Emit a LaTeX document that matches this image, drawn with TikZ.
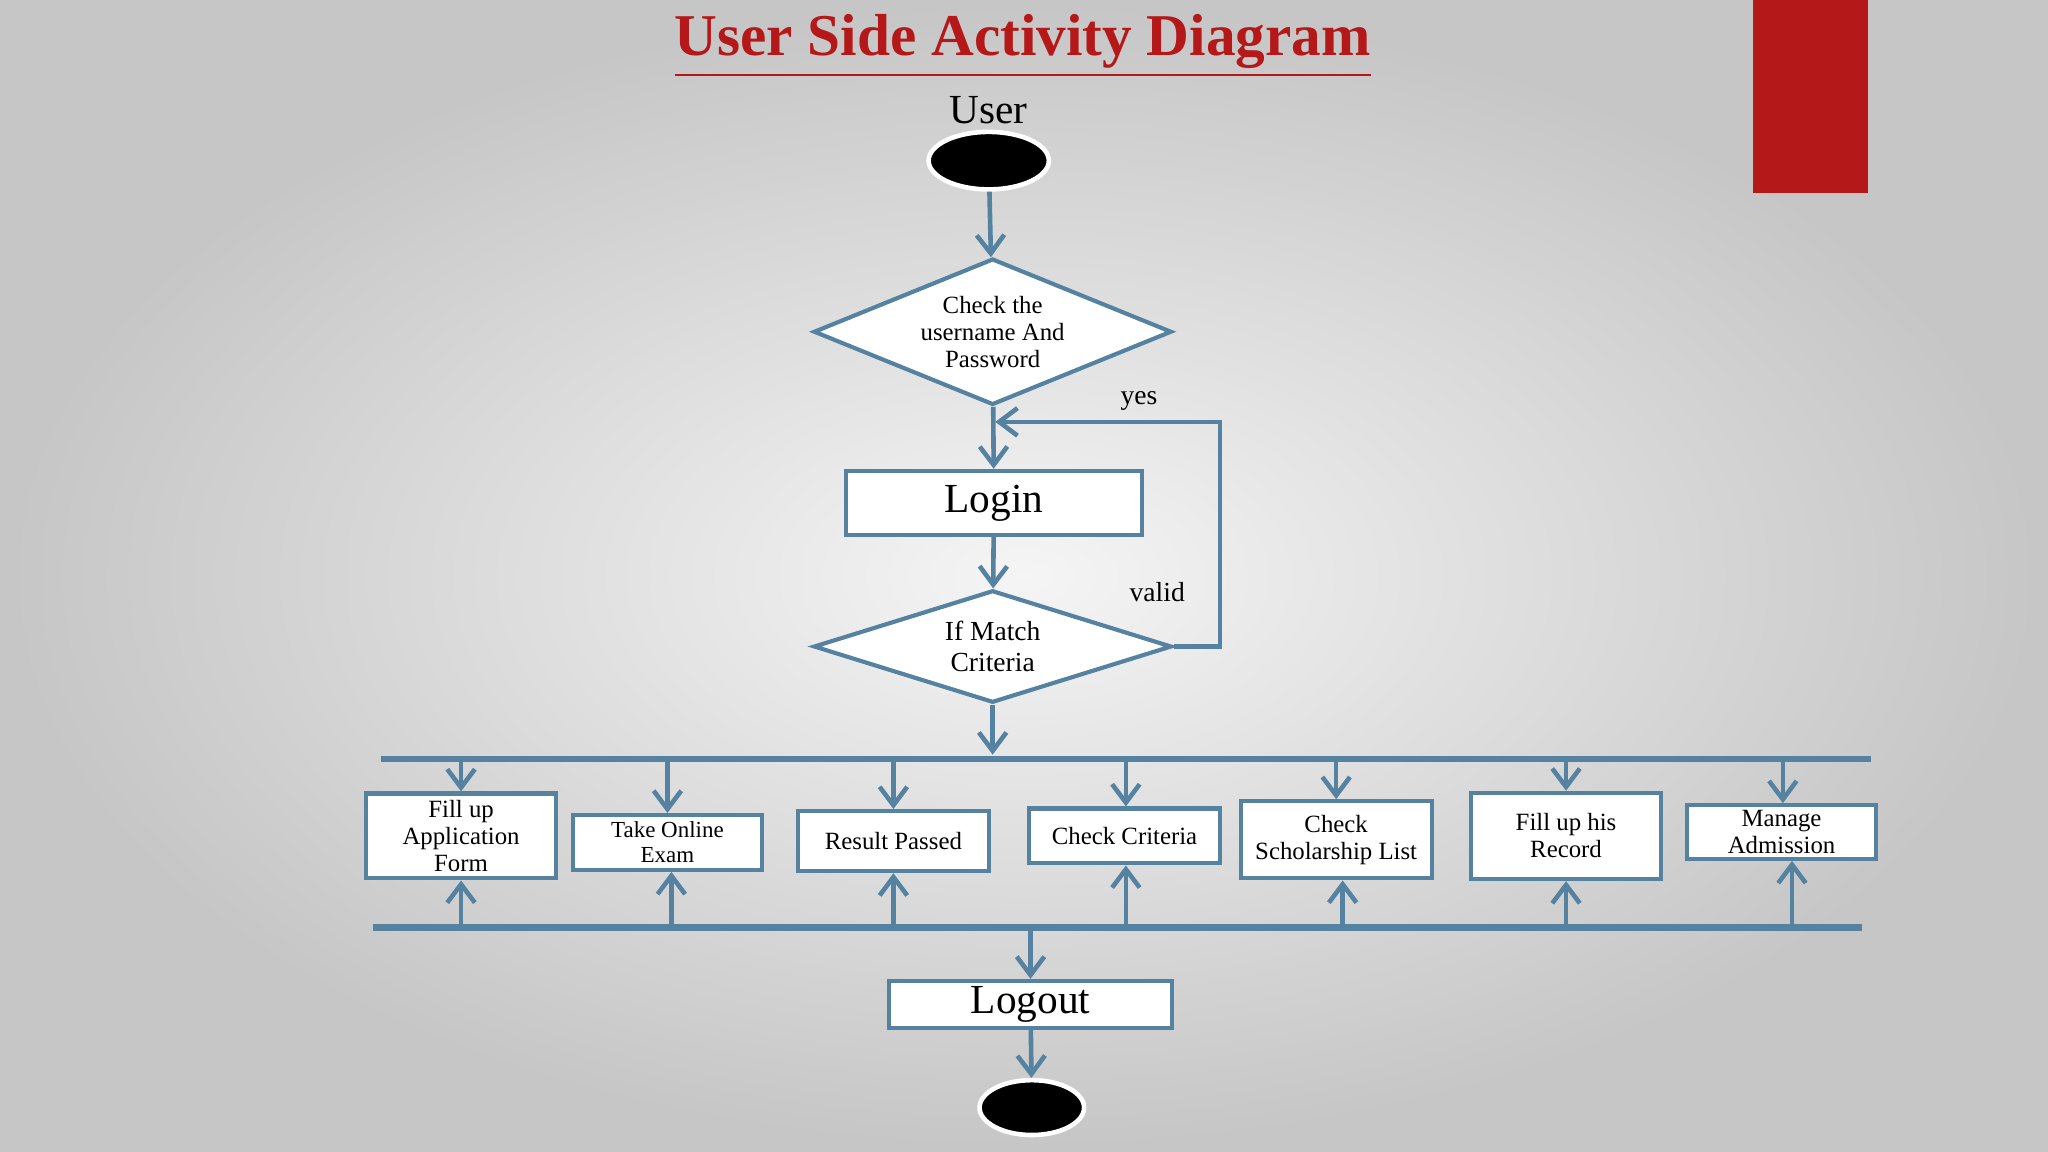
\documentclass[tikz,border=0pt]{standalone}
\usepackage{fontspec}
\setmainfont{Liberation Serif}
\usepackage{tikz}
\usetikzlibrary{shapes.geometric,arrows.meta,backgrounds}
\definecolor{flow}{RGB}{84,130,160}
\definecolor{titlered}{RGB}{180,24,24}
\tikzset{
  line/.style={draw=flow, line width=1pt, -{Straight Barb[length=4pt,width=6pt]}},
  bar/.style={fill=flow, inner sep=0pt, minimum height=0.05cm},
  act/.style={draw=flow, fill=white, line width=0.9pt, align=center, inner sep=1pt},
  cond/.style={diamond, draw=flow, fill=white, line width=0.9pt, align=center, aspect=2.45, inner sep=0pt},
  dot/.style={ellipse, fill=black, draw=white, line width=1pt},
  small/.style={font=\fontsize{5.4}{5.9}\selectfont},
}
\begin{document}
\begin{tikzpicture}[x=0.01cm,y=-0.01cm]
        \useasboundingbox (0,0) rectangle (1568,882);
        \shade[inner color=gray!8, outer color=gray!45] (0,0) rectangle (1568,882);
        \fill[titlered] (1342,0) rectangle (1430,148);

        % title and start
        \node[text=titlered, font=\bfseries\fontsize{12.9}{14}\selectfont] (title) at (783,35) {\underline{User Side Activity Diagram}};
        \node[font=\fontsize{9}{9}\selectfont] (user) at (757,84) {User};
        \node[dot, minimum width=0.92cm, minimum height=0.44cm] (start) at (757,123) {};

        \node[cond, small, minimum width=2.74cm, minimum height=1.12cm] (check) at (760,254) {Check the\\username And\\Password};
        \node[act, minimum width=2.26cm, minimum height=0.49cm, font=\fontsize{9}{9}\selectfont] (login) at (761,385) {Login};
        \node[cond, font=\fontsize{6}{6.7}\selectfont, minimum width=2.74cm, minimum height=0.86cm, aspect=3.2] (match) at (760,495) {If Match\\Criteria};
        \coordinate (loopa) at (934,495);
        \coordinate (loopb) at (934,323);
        \coordinate (loopc) at (762,323);
        \node[font=\fontsize{6}{6}\selectfont] (yes) at (872,307) {yes};
        \node[font=\fontsize{6}{6}\selectfont] (valid) at (886,453) {valid};

        % fork and join bars
        \node[bar, minimum width=11.4cm] (fork) at (862,581) {};
        \node[bar, minimum width=11.39cm] (join) at (855.5,710) {};

        \node[act, small, minimum width=1.45cm, minimum height=0.65cm] (b1) at (353,640) {Fill up\\Application\\Form};
        \node[act, font=\fontsize{5}{5.5}\selectfont, minimum width=1.45cm, minimum height=0.42cm] (b2) at (511,645) {Take Online\\Exam};
        \node[act, small, minimum width=1.46cm, minimum height=0.46cm] (b3) at (684,644) {Result Passed};
        \node[act, small, minimum width=1.46cm, minimum height=0.42cm] (b4) at (861,640) {Check Criteria};
        \node[act, small, minimum width=1.46cm, minimum height=0.59cm] (b5) at (1023,643) {Check\\Scholarship List};
        \node[act, small, minimum width=1.45cm, minimum height=0.66cm] (b6) at (1199,640) {Fill up his\\Record};
        \node[act, small, minimum width=1.45cm, minimum height=0.41cm] (b7) at (1364,637) {Manage\\Admission};

        \node[act, minimum width=2.16cm, minimum height=0.36cm, font=\fontsize{9}{9}\selectfont] (logout) at (789,769) {Logout};
        \node[dot, minimum width=0.8cm, minimum height=0.42cm] (stop) at (790,848) {};

        % connectors
        \draw[line] (start) -- (check);
        \draw[line] (check) -- (login);
        \draw[line] (login) -- (match);
        \draw[line] (match.east) -- (loopa) -- (loopb) -- (loopc);
        \draw[line] (match.south) -- (match.south |- fork.north);
        \foreach \b/\x in {b1/353,b2/511,b3/684,b4/862,b5/1023,b6/1199,b7/1365}
            \draw[line] (\x,581) -- (\x,0 |- \b.north);
        \foreach \b/\x in {b1/353,b2/514,b3/684,b4/862,b5/1028,b6/1199,b7/1372}
            \draw[line] (\x,710) -- (\x,0 |- \b.south);
        \draw[line] (789,710) -- (logout);
        \draw[line] (logout) -- (stop);
    \end{tikzpicture}
\end{document}
